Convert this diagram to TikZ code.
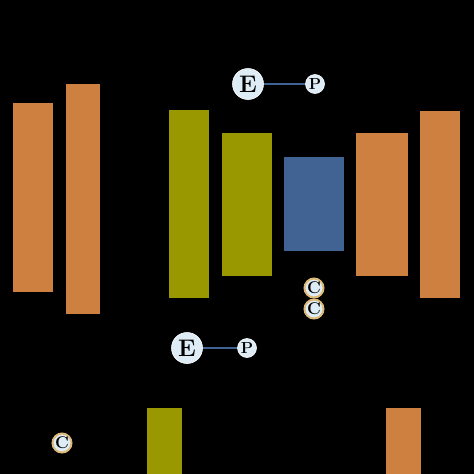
\documentclass[tikz,border=0pt]{standalone}
\usetikzlibrary{positioning}
\definecolor{barorange}{RGB}{206,128,64}
\definecolor{barolive}{RGB}{153,152,0}
\definecolor{barblue}{RGB}{64,99,148}
\definecolor{circfill}{RGB}{222,236,246}
\definecolor{ringgold}{RGB}{222,186,120}
\begin{document}
\begin{tikzpicture}[x=1pt, y=-1pt,
    bar/.style={inner sep=0pt, outer sep=0pt, anchor=north west},
    big node/.style={circle, fill=circfill, draw=white, line width=0.6pt, inner sep=-1pt, minimum size=31pt, font=\bfseries\fontsize{24}{24}\selectfont},
    small node/.style={circle, fill=circfill, draw=white, line width=0.6pt, inner sep=-1pt, minimum size=19pt, font=\bfseries\fontsize{16}{16}\selectfont},
    ring node/.style={circle, fill=circfill, draw=ringgold, line width=2pt, inner sep=-1.5pt, minimum size=19pt, font=\bfseries\fontsize{17}{17}\selectfont}]
    \useasboundingbox (0,0) rectangle (474,474);
    \fill[black] (0,0) rectangle (474,474);

      % top row of bars
      \node[bar, fill=barorange, minimum width=40pt, minimum height=189pt] (o1) at (13,103) {};
      \node[bar, fill=barorange, minimum width=34pt, minimum height=230pt] (o2) at (66,84) {};
      \node[bar, fill=barolive, minimum width=40pt, minimum height=188pt] (g1) at (169,110) {};
      \node[bar, fill=barolive, minimum width=50pt, minimum height=143pt] (g2) at (222,133) {};
      \node[bar, fill=barblue, minimum width=60pt, minimum height=94pt] (b1) at (284,157) {};
      \node[bar, fill=barorange, minimum width=52pt, minimum height=143pt] (o3) at (356,133) {};
      \node[bar, fill=barorange, minimum width=40pt, minimum height=187pt] (o4) at (420,111) {};

      % bottom row of bars
      \node[bar, fill=barolive, minimum width=35pt, minimum height=66pt] (g3) at (147,408) {};
      \node[bar, fill=barorange, minimum width=35pt, minimum height=66pt] (o5) at (386,408) {};

      % circles
      \node[big node] (e1) at (248,84) {E};
      \node[small node] (p1) at (315,84) {P};
      \node[big node] (e2) at (187,348) {E};
      \node[small node] (p2) at (247,348) {P};
      \node[ring node] (c1) at (314,288) {C};
      \node[ring node] (c2) at (314,309) {C};
      \node[ring node] (c3) at (62,443) {C};

      \path[draw=barblue, line width=1.8pt]
        (e1) edge (p1)
        (e2) edge (p2);

\end{tikzpicture}
\end{document}
